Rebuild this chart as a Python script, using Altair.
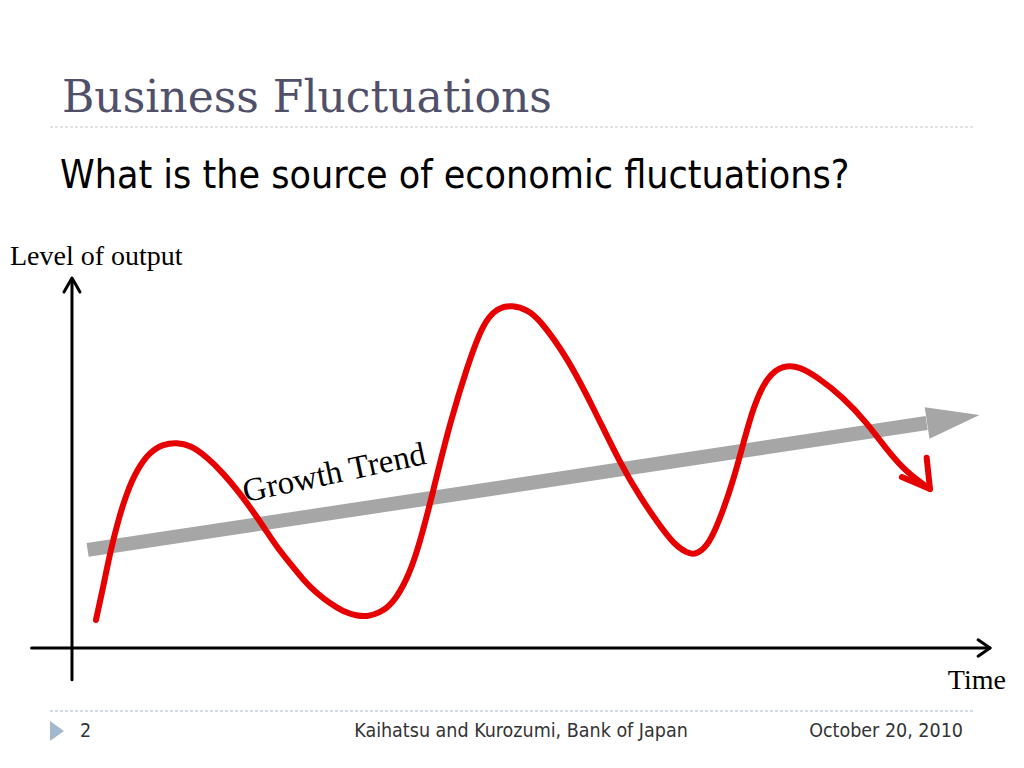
import altair as alt
import pandas as pd

# ---- data (time, level of output) ----
cycle_t = [2.61, 3.41, 4.14, 5.04, 5.96, 7.05, 8.50, 9.95, 11.41, 12.85, 14.67, 16.48, 18.30,
           20.12, 21.21, 22.30, 23.75, 25.20, 26.66, 28.10, 29.55, 31.01, 32.10, 33.55, 35.0,
           36.46, 37.55, 38.64, 39.36, 39.90, 41.18, 43.03, 44.77, 46.30, 47.93, 49.67, 50.98,
           53.92, 56.75, 59.69, 61.87, 64.05, 65.50, 66.96, 68.05, 69.50, 70.95, 72.04, 73.13,
           74.22, 75.68, 77.48, 79.30, 81.12, 83.99, 86.60, 88.78, 90.96, 93.46]
cycle_level = [7.57, 16.57, 25.68, 34.59, 41.89, 48.11, 53.05, 55.14, 55.49, 54.86, 51.70, 47.22, 41.81,
               35.49, 31.43, 27.38, 22.89, 18.38, 14.78, 12.08, 9.81, 8.73, 8.46, 9.46, 12.16,
               18.38, 25.59, 35.49, 42.70, 48.11, 60.81, 75.95, 87.84, 91.89, 92.70, 91.35, 88.65,
               78.65, 65.14, 50.0, 40.81, 32.97, 28.30, 25.59, 25.14, 28.30, 37.30, 45.41, 55.32,
               65.22, 73.32, 76.49, 76.03, 73.32, 67.84, 60.81, 53.51, 47.30, 42.97]
cycle_head_t = [90.4, 93.46, 93.1]
cycle_head_level = [46.2, 42.97, 51.4]

trend_t = [1.7, 93.1]
trend_level = [26.5, 60.8]
trend_head_t = [96.0]
trend_head_level = [61.9]

yaxis_t = [0.0, 0.0]
yaxis_level = [-8.6, 99.5]
yhead_t = [-0.87, 0.0, 0.87]
yhead_level = [96.2, 100.0, 96.2]
xaxis_t = [-4.4, 100.0]
xaxis_level = [0.0, 0.0]
xhead_t = [98.7, 100.0, 98.7]
xhead_level = [2.2, 0.0, -2.2]

chart_labels = ["Level of output", "Time", "Growth Trend"]
label_t = [-6.75, 95.4, 28.8]
label_level = [103.6, -11.1, 44.6]

title_text = "Business Fluctuations"
subtitle_text = "What is the source of economic fluctuations?"
footer_page = "2"
footer_center = "Kaihatsu and Kurozumi, Bank of Japan"
footer_date = "October 20, 2010"

# ---- scales ----
xs = alt.Scale(domain=[-6.97, 102.83], nice=False, zero=False)
ys = alt.Scale(domain=[-30.27, 172.97], nice=False, zero=False)


def enc(order=False):
    e = dict(x=alt.X("t:Q", scale=xs, axis=None), y=alt.Y("v:Q", scale=ys, axis=None))
    if order:
        e["order"] = alt.Order("i:Q")
    return e


def df(t, v):
    return pd.DataFrame({"t": t, "v": v, "i": list(range(len(t)))})


one = pd.DataFrame({"k": [0]})

# ---- slide furniture ----
title = alt.Chart(one).mark_text(
    text=title_text, font="DejaVu Serif", fontSize=44, color="#50506a",
    align="left", baseline="alphabetic"
).encode(x=alt.value(54), y=alt.value(104))

subtitle = alt.Chart(one).mark_text(
    text=subtitle_text, font="DejaVu Sans Condensed, DejaVu Sans", fontSize=39, color="#000000",
    align="left", baseline="alphabetic"
).encode(x=alt.value(52), y=alt.value(180))

title_rule = alt.Chart(one).mark_rule(color="#c8c8c8", strokeWidth=1.2, strokeDash=[3, 2]).encode(
    x=alt.value(42), x2=alt.value(965), y=alt.value(119))
footer_rule = alt.Chart(one).mark_rule(color="#a9bccf", strokeWidth=1.2, strokeDash=[3, 2]).encode(
    x=alt.value(42), x2=alt.value(965), y=alt.value(703))

footer_tri = alt.Chart(one).mark_point(
    shape="M-0.7,-1L0.7,0L-0.7,1Z", filled=True, color="#a3b7cd", opacity=1, size=400
).encode(x=alt.value(49), y=alt.value(723))

footer_font = "DejaVu Sans Condensed, DejaVu Sans"
f_page = alt.Chart(one).mark_text(text=footer_page, font=footer_font, fontSize=19.5, color="#333333",
                                  align="left", baseline="middle").encode(x=alt.value(72), y=alt.value(723))
f_center = alt.Chart(one).mark_text(text=footer_center, font=footer_font, fontSize=19.5, color="#333333",
                                    align="center", baseline="middle").encode(x=alt.value(513), y=alt.value(723))
f_date = alt.Chart(one).mark_text(text=footer_date, font=footer_font, fontSize=19.5, color="#333333",
                                  align="right", baseline="middle").encode(x=alt.value(955), y=alt.value(723))

# ---- diagram ----
axis_style = dict(color="#000000", strokeWidth=3, strokeCap="round", strokeJoin="round")
y_axis = alt.Chart(df(yaxis_t, yaxis_level)).mark_line(**axis_style).encode(**enc(True))
y_head = alt.Chart(df(yhead_t, yhead_level)).mark_line(**axis_style).encode(**enc(True))
x_axis = alt.Chart(df(xaxis_t, xaxis_level)).mark_line(**axis_style).encode(**enc(True))
x_head = alt.Chart(df(xhead_t, xhead_level)).mark_line(**axis_style).encode(**enc(True))

trend = alt.Chart(df(trend_t, trend_level)).mark_line(
    color="#a6a6a6", strokeWidth=14, strokeCap="butt").encode(**enc(True))
trend_head = alt.Chart(df(trend_head_t, trend_head_level)).mark_point(
    shape="M-1,-0.6L1,0L-1,0.6Z", filled=True, color="#a6a6a6", opacity=1,
    size=2809, angle=351.4).encode(**enc())

red = "#e60000"
cycle = alt.Chart(df(cycle_t, cycle_level)).mark_line(
    color=red, strokeWidth=6, strokeCap="round", strokeJoin="round", interpolate="basis"
).encode(**enc(True))
cycle_head = alt.Chart(df(cycle_head_t, cycle_head_level)).mark_line(
    color=red, strokeWidth=6, strokeCap="round", strokeJoin="round").encode(**enc(True))

lab_df = pd.DataFrame({"t": label_t, "v": label_level, "label": chart_labels})
lab_main = alt.Chart(lab_df.iloc[:2]).mark_text(
    font="Liberation Serif", fontSize=28, color="#000000", align="left", baseline="alphabetic"
).encode(x=alt.X("t:Q", scale=xs, axis=None), y=alt.Y("v:Q", scale=ys, axis=None), text="label:N")
lab_trend = alt.Chart(lab_df.iloc[2:]).mark_text(
    font="Liberation Serif", fontSize=33, color="#000000", align="center", baseline="alphabetic",
    angle=348
).encode(x=alt.X("t:Q", scale=xs, axis=None), y=alt.Y("v:Q", scale=ys, axis=None), text="label:N")

chart = alt.layer(
    title_rule, footer_rule, title, subtitle, footer_tri, f_page, f_center, f_date,
    y_axis, y_head, x_axis, x_head, trend, trend_head, lab_trend, cycle, cycle_head, lab_main
).properties(
    width=1008, height=752, padding=0, autosize="none", background="white"
).configure_view(stroke=None)

chart.save("out.html", embed_options={"renderer": "svg", "actions": False})
